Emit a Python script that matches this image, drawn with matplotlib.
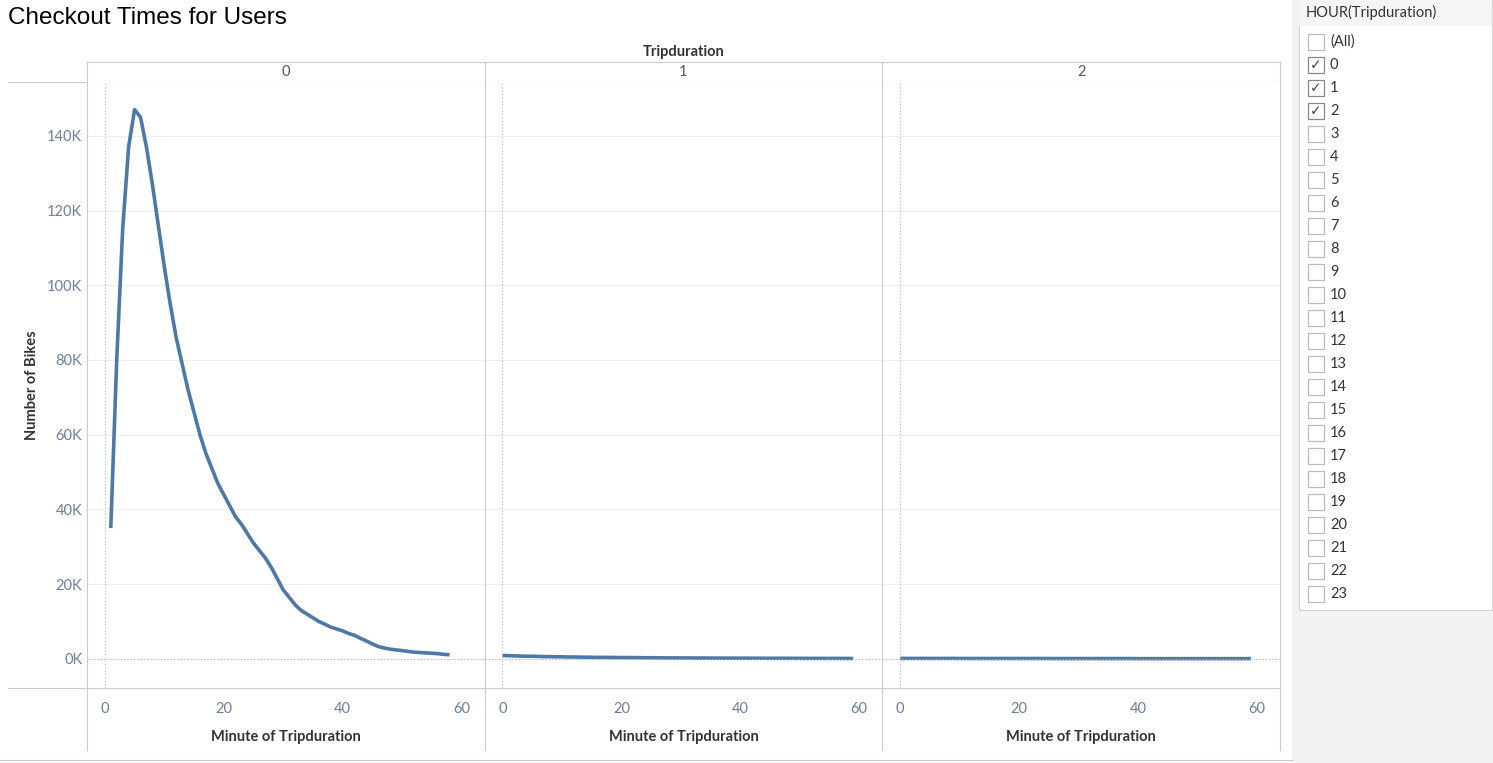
import numpy as np
import matplotlib.pyplot as plt
from matplotlib.patches import Rectangle

# Number of bikes (thousands) by minute, one series per trip-duration hour
minutes_h0 = list(range(1, 59))
bikes_h0 = [35, 80, 115, 137, 147, 145, 137, 127, 116, 105, 95, 86, 79, 72, 66, 60,
            55, 51, 47, 44, 41, 38, 36, 33.5, 31, 29, 27, 24.5, 21.5, 18.5, 16.5,
            14.5, 13, 12, 11, 10, 9.3, 8.5, 8, 7.5, 6.8, 6.3, 5.5, 4.8, 4, 3.3,
            2.9, 2.6, 2.4, 2.2, 2.0, 1.8, 1.7, 1.6, 1.5, 1.4, 1.2, 1.1]
minutes_h1 = list(range(0, 60))
bikes_h1 = [0.9, 0.85, 0.8, 0.75, 0.7, 0.7, 0.65, 0.6, 0.6, 0.55, 0.55, 0.5, 0.5,
            0.45, 0.45, 0.42, 0.4, 0.4, 0.38, 0.36, 0.35, 0.34, 0.33, 0.32, 0.3,
            0.3, 0.28, 0.27, 0.26, 0.25, 0.25, 0.24, 0.23, 0.22, 0.22, 0.21, 0.2,
            0.2, 0.19, 0.19, 0.18, 0.18, 0.17, 0.17, 0.16, 0.16, 0.15, 0.15, 0.15,
            0.14, 0.14, 0.13, 0.13, 0.13, 0.12, 0.12, 0.12, 0.11, 0.11, 0.1]
minutes_h2 = list(range(0, 60))
bikes_h2 = [0.12] * 10 + [0.1] * 15 + [0.08] * 15 + [0.06] * 20
series = [(minutes_h0, bikes_h0), (minutes_h1, bikes_h1), (minutes_h2, bikes_h2)]
hours = ["0", "1", "2"]
y_ticks = [0, 20, 40, 60, 80, 100, 120, 140]
x_ticks = [0, 20, 40, 60]
filter_items = ["(All)"] + [str(h) for h in range(24)]
checked = {"0", "1", "2"}

W, H = 1493, 763
fig = plt.figure(figsize=(W / 100, H / 100), dpi=100)
plt.rcParams['font.family'] = ['Lato', 'DejaVu Sans']

def fx(px): return px / W
def fy(py): return 1 - py / H

line_c = "#4e79a7"
tick_c = "#6d7f99"
grid_c = "#cccccc"

# grey right background
fig.patches.append(Rectangle((fx(1292), 0), 1, 1, transform=fig.transFigure,
                             color="#f2f2f2", zorder=0))
fig.text(fx(8), fy(18), "Checkout Times for Users", fontsize=17.5, va="center",
         family=["Liberation Sans", "DejaVu Sans"])

left, right, top, bottom = 87, 1280, 82, 688
pw = (right - left) / 3
for i, (mx, by) in enumerate(series):
    x0 = left + i * pw
    ax = fig.add_axes([fx(x0), fy(bottom), pw / W, (bottom - top) / H])
    ax.plot(mx, by, color=line_c, lw=2.6, solid_capstyle="butt")
    ax.set_xlim(-3, 63.9)
    ax.set_ylim(-7.8, 154.4)
    ax.set_yticks(y_ticks)
    ax.grid(axis="y", color="#eeeeee", lw=0.8)
    ax.axvline(0, color="#bbbbbb", lw=0.8, ls=(0, (1, 2)))
    ax.axhline(0, color="#bbbbbb", lw=0.8, ls=(0, (1, 2)))
    ax.set_xticks(x_ticks)
    ax.tick_params(length=0, colors=tick_c, labelsize=10.5)
    ax.tick_params(axis="x", pad=10)
    for s in ["top", "right"]:
        ax.spines[s].set_visible(False)
    ax.spines["bottom"].set_color(grid_c)
    ax.spines["left"].set_color(grid_c)
    if i == 0:
        ax.set_yticklabels([f"{v}K" for v in y_ticks])
        ax.set_ylabel("Number of Bikes", fontsize=10.5, color="#333333", labelpad=6,
                      weight="bold")
    else:
        ax.set_yticklabels([])
    ax.set_xlabel("Minute of Tripduration", fontsize=10.5, color="#333333", labelpad=10,
                  weight="bold")
    ax.set_zorder(2)
    fig.text(fx(x0 + pw / 2), fy(72), hours[i], ha="center", va="center",
             fontsize=10.5, color="#555555")
    fig.add_artist(plt.Line2D([fx(x0), fx(x0)], [fy(62), fy(750)], color=grid_c, lw=0.8))

fig.add_artist(plt.Line2D([fx(right), fx(right)], [fy(62), fy(750)], color=grid_c, lw=0.8))
fig.add_artist(plt.Line2D([fx(left), fx(right)], [fy(62), fy(62)], color=grid_c, lw=0.8))
fig.add_artist(plt.Line2D([fx(8), fx(right)], [fy(82), fy(82)], color=grid_c, lw=0.8))
fig.add_artist(plt.Line2D([fx(8), fx(right)], [fy(688), fy(688)], color=grid_c, lw=0.8))
fig.add_artist(plt.Line2D([fx(0), fx(1292)], [fy(760), fy(760)], color=grid_c, lw=0.8))
fig.text(fx((left + right) / 2), fy(52), "Tripduration", ha="center", va="center",
         fontsize=10.5, color="#333333", weight="bold")

# filter card
fig.patches.append(Rectangle((fx(1299), fy(610)), fx(1492) - fx(1299), 610 / H,
                             transform=fig.transFigure, facecolor="white",
                             edgecolor="#d4d4d4", lw=0.8, zorder=1))
fig.patches.append(Rectangle((fx(1299), fy(26)), fx(1492) - fx(1299), 26 / H,
                             transform=fig.transFigure, facecolor="#f5f5f5",
                             edgecolor="none", zorder=1.5))
fig.text(fx(1306), fy(12), "HOUR(Tripduration)", fontsize=10.5, color="#333333",
         va="center", zorder=3)
for k, item in enumerate(filter_items):
    cy = 42 + k * 23
    fig.patches.append(Rectangle((fx(1308), fy(cy + 8)), 16 / W, 16 / H,
                                 transform=fig.transFigure, facecolor="white",
                                 edgecolor="#888888" if item in checked else "#bbbbbb",
                                 lw=0.9, zorder=3))
    if item in checked:
        fig.text(fx(1316), fy(cy), "\u2713", ha="center", va="center", fontsize=10,
                 color="#444444", zorder=4, family="DejaVu Sans")
    fig.text(fx(1330), fy(cy), item, fontsize=10.5, color="#333333", va="center", zorder=3)

fig.savefig("out.png", dpi=100)
